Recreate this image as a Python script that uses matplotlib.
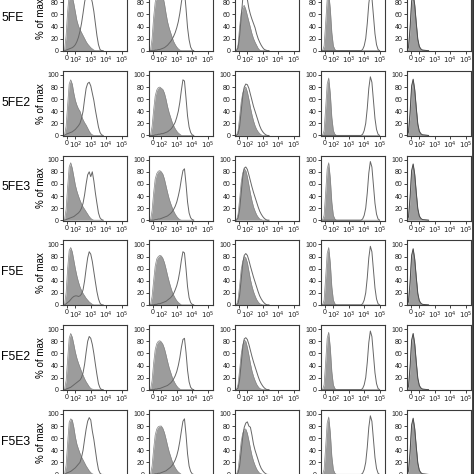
import matplotlib.pyplot as plt
from matplotlib.lines import Line2D

plt.rcParams['font.family'] = ['Liberation Sans', 'DejaVu Sans']

# row labels (left part is cut off in the source figure)
row_names = ["5FE", "5FE2", "5FE3", "F5E", "F5E2", "F5E3"]

# biexponential-like axis, in decades (0 sits just left of 10^2)
x_ticks = [1.45, 2, 3, 4, 5]
x_tick_labels = ["0", "$10^2$", "$10^3$", "$10^4$", "$10^5$"]
y_ticks = [0, 20, 40, 60, 80, 100]

# column 1
x1 = [1.3, 1.4, 1.5, 1.6, 1.7, 1.8, 1.9, 2.0, 2.1, 2.2, 2.3, 2.4, 2.5,
      2.6, 2.7, 2.8, 2.9, 3.0, 3.1, 3.2, 3.3, 3.4, 3.5, 3.6, 3.7, 3.8]
ctrl1 = [
    [0, 25, 65, 92, 97, 90, 78, 64, 50, 41, 35, 30, 25, 20, 15, 11, 8, 5, 3, 1, 0, 0, 0, 0, 0, 0],
    [0, 15, 50, 85, 92, 85, 70, 58, 50, 44, 40, 32, 26, 21, 17, 12, 7, 3, 1, 0, 0, 0, 0, 0, 0, 0],
    [0, 18, 55, 88, 95, 86, 72, 58, 48, 40, 33, 27, 22, 18, 14, 10, 6, 3, 1, 0, 0, 0, 0, 0, 0, 0],
    [0, 20, 60, 90, 95, 88, 74, 60, 48, 38, 30, 24, 19, 15, 11, 8, 5, 3, 1, 0, 0, 0, 0, 0, 0, 0],
    [0, 15, 50, 85, 93, 87, 75, 62, 52, 44, 37, 30, 24, 18, 13, 9, 5, 2, 1, 0, 0, 0, 0, 0, 0, 0],
    [0, 15, 52, 86, 92, 90, 78, 62, 50, 42, 35, 29, 24, 19, 14, 10, 6, 3, 1, 0, 0, 0, 0, 0, 0, 0],
]
stain1 = [
    [0, 1, 2, 3, 4, 5, 7, 10, 15, 22, 32, 45, 62, 80, 93, 98, 97, 90, 80, 65, 45, 25, 10, 2, 0, 0],
    [0, 2, 3, 4, 5, 6, 8, 10, 13, 16, 20, 28, 40, 60, 78, 86, 88, 82, 70, 58, 42, 28, 14, 5, 1, 0],
    [0, 1, 2, 3, 4, 5, 6, 8, 10, 12, 15, 20, 28, 42, 60, 75, 80, 72, 80, 65, 45, 28, 12, 4, 1, 0],
    [0, 2, 4, 6, 9, 12, 14, 15, 15, 14, 15, 18, 25, 40, 60, 78, 88, 84, 72, 55, 38, 22, 10, 3, 0, 0],
    [0, 1, 2, 3, 4, 6, 8, 10, 12, 14, 16, 20, 28, 42, 62, 80, 88, 85, 75, 60, 42, 25, 10, 3, 0, 0],
    [0, 2, 3, 4, 5, 7, 9, 11, 14, 17, 20, 28, 40, 58, 75, 88, 94, 90, 72, 58, 40, 22, 8, 2, 0, 0],
]

# column 2
x2 = [1.3, 1.4, 1.5, 1.6, 1.7, 1.8, 1.9, 2.0, 2.1, 2.2, 2.3, 2.4, 2.5, 2.6, 2.7,
      2.8, 2.9, 3.0, 3.1, 3.2, 3.3, 3.4, 3.5, 3.6, 3.7, 3.8, 3.9, 4.0, 4.1]
ctrl2 = [
    [0, 20, 55, 80, 90, 95, 98, 97, 90, 78, 62, 48, 38, 30, 22, 15, 10, 6, 3, 1, 0, 0, 0, 0, 0, 0, 0, 0, 0],
    [0, 15, 42, 65, 75, 79, 80, 78, 76, 70, 60, 48, 38, 30, 22, 16, 11, 7, 4, 2, 0, 0, 0, 0, 0, 0, 0, 0, 0],
    [0, 16, 45, 68, 77, 81, 82, 80, 76, 68, 57, 46, 36, 28, 21, 15, 10, 6, 3, 1, 0, 0, 0, 0, 0, 0, 0, 0, 0],
    [0, 14, 40, 64, 76, 80, 82, 81, 77, 70, 60, 49, 39, 30, 22, 16, 11, 7, 4, 2, 0, 0, 0, 0, 0, 0, 0, 0, 0],
    [0, 15, 44, 66, 76, 80, 81, 79, 75, 68, 58, 47, 37, 29, 21, 15, 10, 6, 3, 1, 0, 0, 0, 0, 0, 0, 0, 0, 0],
    [0, 14, 42, 65, 75, 79, 80, 80, 76, 69, 59, 48, 38, 30, 22, 16, 11, 7, 4, 2, 0, 0, 0, 0, 0, 0, 0, 0, 0],
]
stain2 = [
    [0, 0, 0, 1, 1, 2, 2, 3, 4, 5, 7, 9, 12, 15, 19, 24, 30, 38, 48, 62, 80, 95, 98, 70, 38, 18, 6, 1, 0],
    [0, 0, 0, 1, 1, 2, 2, 3, 3, 4, 5, 6, 8, 10, 13, 17, 22, 30, 40, 55, 75, 92, 90, 62, 32, 14, 5, 1, 0],
    [0, 0, 0, 1, 1, 2, 2, 3, 4, 5, 6, 7, 9, 11, 14, 18, 23, 30, 40, 52, 68, 82, 85, 60, 30, 12, 4, 1, 0],
    [0, 0, 0, 1, 1, 2, 2, 3, 4, 5, 6, 8, 10, 12, 15, 19, 25, 32, 42, 56, 74, 88, 86, 60, 30, 12, 4, 1, 0],
    [0, 0, 0, 1, 1, 2, 2, 3, 4, 5, 6, 7, 9, 11, 14, 18, 23, 30, 40, 53, 70, 83, 85, 62, 32, 13, 4, 1, 0],
    [0, 0, 0, 1, 1, 2, 2, 3, 4, 5, 6, 8, 10, 12, 15, 19, 24, 31, 41, 55, 72, 88, 92, 66, 34, 14, 5, 1, 0],
]

# column 3
x3 = [1.3, 1.4, 1.5, 1.6, 1.7, 1.8, 1.9, 2.0, 2.1, 2.2, 2.3,
      2.4, 2.5, 2.6, 2.7, 2.8, 2.9, 3.0, 3.1, 3.2, 3.3, 3.4]
ctrl3 = [
    [0, 10, 40, 62, 72, 75, 68, 58, 48, 38, 28, 20, 14, 9, 4, 1, 0, 0, 0, 0, 0, 0],
    [0, 8, 30, 55, 70, 78, 80, 72, 60, 46, 34, 24, 16, 10, 6, 3, 1, 0, 0, 0, 0, 0],
    [0, 10, 35, 62, 78, 85, 82, 72, 58, 44, 32, 22, 15, 9, 5, 2, 1, 0, 0, 0, 0, 0],
    [0, 9, 32, 58, 72, 80, 78, 70, 56, 42, 31, 22, 15, 9, 5, 2, 1, 0, 0, 0, 0, 0],
    [0, 9, 33, 58, 74, 82, 80, 70, 57, 43, 31, 22, 15, 9, 5, 2, 1, 0, 0, 0, 0, 0],
    [0, 8, 30, 54, 68, 75, 75, 68, 56, 43, 31, 22, 15, 9, 5, 2, 1, 0, 0, 0, 0, 0],
]
stain3 = [
    [0, 5, 25, 55, 85, 98, 95, 85, 70, 60, 52, 45, 38, 28, 20, 14, 9, 5, 2, 1, 0, 0],
    [0, 3, 15, 40, 65, 80, 85, 84, 78, 68, 58, 48, 40, 32, 24, 16, 10, 6, 3, 1, 0, 0],
    [0, 4, 18, 45, 72, 86, 88, 84, 75, 65, 55, 46, 38, 30, 22, 15, 10, 6, 3, 1, 0, 0],
    [0, 3, 16, 42, 68, 82, 85, 82, 74, 64, 55, 46, 38, 30, 22, 15, 10, 6, 3, 1, 0, 0],
    [0, 3, 17, 43, 70, 84, 86, 83, 75, 65, 55, 46, 38, 30, 22, 15, 10, 6, 3, 1, 0, 0],
    [0, 3, 14, 38, 62, 78, 85, 87, 80, 78, 65, 50, 40, 32, 24, 16, 10, 6, 3, 1, 0, 0],
]

# column 4 (same shape in every row)
x4 = [1.3, 1.4, 1.5, 1.6, 1.7, 1.8, 1.9, 2.0, 2.1, 2.2, 3.7, 3.8,
      3.9, 4.0, 4.1, 4.2, 4.3, 4.4, 4.5, 4.6, 4.7, 4.8, 4.9, 5.0]
ctrl4 = [0, 8, 45, 85, 95, 70, 30, 8, 2, 0, 0, 0, 0, 0, 0, 0, 0, 0, 0, 0, 0, 0, 0, 0]
stain4 = [0, 0, 0, 0, 0, 0, 0, 0, 0, 0, 0, 0, 2, 8, 20, 45, 78, 97, 88, 58, 28, 10, 2, 0]

# column 5 (same shape in every row)
x5 = [1.2, 1.3, 1.4, 1.5, 1.6, 1.7, 1.8, 1.9, 2.0, 2.1, 2.2, 2.4, 2.6]
ctrl5 = [0, 5, 35, 80, 92, 75, 45, 18, 6, 2, 1, 0.5, 0]
stain5 = [0, 6, 38, 82, 93, 76, 46, 19, 7, 3, 1, 0.5, 0]

grids = [x1, x2, x3, x4, x5]
ctrls = [ctrl1, ctrl2, ctrl3, [ctrl4] * 6, [ctrl5] * 6]
stains = [stain1, stain2, stain3, [stain4] * 6, [stain5] * 6]

W = 474.0
fig = plt.figure(figsize=(4.74, 4.74), dpi=100)

ax_w, ax_h = 64, 65
for r in range(6):
    top = -14 + 84.75 * r
    for c in range(5):
        left = 63 + 86 * c
        ax = fig.add_axes([left / W, 1 - (top + ax_h) / W, ax_w / W, ax_h / W])
        x = grids[c]
        g = ctrls[c][r]
        s = stains[c][r]
        ax.fill_between(x, 0, g, color='#9c9c9c', lw=0)
        ax.plot(x, g, color='#858585', lw=0.5)
        ax.plot(x, s, color='#4d4d4d' if c == 4 else '#666666', lw=0.7)
        ax.set_xlim(1.2, 5.35)
        ax.set_ylim(-0.5, 107)
        ax.set_xticks(x_ticks)
        ax.set_xticklabels(x_tick_labels)
        ax.set_yticks(y_ticks)
        ax.tick_params(labelsize=5, length=2, width=0.6, pad=1, colors='#222222')
        for sp in ax.spines.values():
            sp.set_color('#3a3a3a')
            sp.set_linewidth(0.8)
        if c == 0:
            ax.set_ylabel("% of max", fontsize=7, labelpad=1)
    fig.text(1 / W, 1 - (top + 32) / W, row_names[r], fontsize=8.8,
             ha='left', va='center')

# dark edge at the right border of the crop
fig.add_artist(Line2D([473 / W, 473 / W], [0, 1], color='#333333', lw=2))

fig.savefig("out.png", dpi=100)
